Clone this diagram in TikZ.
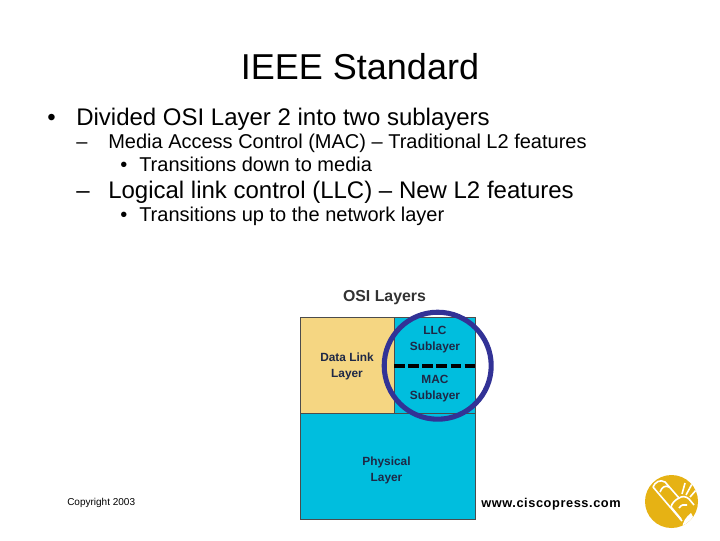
\documentclass[tikz,border=0pt]{standalone}
\usepackage{fontspec}
\setmainfont{Liberation Sans}
\usetikzlibrary{positioning}
\definecolor{layerblue}{RGB}{0,190,222}
\definecolor{linksand}{RGB}{245,214,130}
\definecolor{ringblue}{RGB}{50,50,150}
\definecolor{logogold}{RGB}{230,178,20}
\definecolor{labelnavy}{RGB}{30,40,70}
\tikzset{
  txt/.style={anchor=base west,inner sep=0pt},
  layerbox/.style={draw=black!70,line width=0.7pt},
  boxlabel/.style={align=center,text=labelnavy,font=\fontsize{8.9}{12}\selectfont\bfseries},
  logoline/.style={white,line width=1.2pt,line join=round}
}
\newcommand{\pxfont}[1]{\fontsize{#1}{#1}\selectfont}
\begin{document}
\begin{tikzpicture}[x=0.75pt,y=-0.75pt]
\useasboundingbox (0,0) rectangle (720,540);
% slide text
\node (title) [anchor=base,inner sep=0pt,font=\pxfont{27}] at (360,79) {IEEE Standard};
\node (b1) [txt,font=\pxfont{18}] at (47,125) {•};
\node (l1) [txt,font=\pxfont{18}] at (76,125) {Divided OSI Layer 2 into two sublayers};
\node (d1) [txt,font=\pxfont{15}] at (76,148) {–};
\node (l2) [txt,font=\pxfont{15}] at (108,148) {Media Access Control (MAC) – Traditional L2 features};
\node (b2) [txt,font=\pxfont{15}] at (120,171) {•};
\node (l3) [txt,font=\pxfont{15}] at (139,171) {Transitions down to media};
\node (d2) [txt,font=\pxfont{18}] at (76,198) {–};
\node (l4) [txt,font=\pxfont{18}] at (108,198) {Logical link control (LLC) – New L2 features};
\node (b3) [txt,font=\pxfont{15}] at (120,221) {•};
\node (l5) [txt,font=\pxfont{15}] at (139,221) {Transitions up to the network layer};
% layers
\node (osi) [inner sep=0pt,font=\pxfont{11.9}\bfseries,text=black!80] at (384.5,298) {OSI Layers};
\fill[linksand] (300,317) rectangle (394,413);
\fill[layerblue] (394,317) rectangle (475,413);
\fill[layerblue] (300,413) rectangle (475,519);
\draw[layerbox] (300,317) rectangle (475,519);
\draw[layerbox] (394,317) -- (394,413);
\draw[layerbox] (300,413) -- (475,413);
\coordinate (cutl) at (394,366);
\coordinate (cutr) at (475,366);
\draw[line width=2.4pt,dash pattern=on 8pt off 2.6pt,black] (cutl) -- (cutr);
\node (dll) [boxlabel] at (347,366.5) {Data Link\\Layer};
\node (llc) [boxlabel] at (435,339.5) {LLC\\Sublayer};
\node (mac) [boxlabel] at (435,389) {MAC\\Sublayer};
\node (phy) [boxlabel] at (386.5,470) {Physical\\Layer};
\draw[ringblue,line width=3.8pt] (437.7,365.7) circle [radius=53.5];
% footer
\node (copy) [txt,font=\pxfont{7.5}] at (67,505) {Copyright 2003};
\node (www) [txt,font=\pxfont{9.6}\bfseries\addfontfeatures{LetterSpace=4.5}] at (481,507) {www.ciscopress.com};
% logo
\fill[logogold] (671.5,501.5) circle [radius=26.5];
\begin{scope}
\clip (671.5,501.5) circle [radius=26.5];
\draw[logoline] (653,487) .. controls (655,482) and (660,479) .. (665,482) -- (679,498) .. controls (675,500) and (672,503) .. (671,507);
\draw[logoline] (653,487) -- (682,521);
\draw[logoline] (660,492) .. controls (662,487) and (665,485) .. (669,487);
\draw[logoline] (679,498) .. controls (682,496) and (686,496) .. (689,499) -- (694,505);
\draw[logoline] (671,507) -- (681,519);
\draw[logoline] (679,508) .. controls (681,505) and (684,504) .. (687,505);
\draw[logoline] (682,494) -- (685,483);
\draw[logoline] (686,495) -- (692,484);
\draw[logoline] (690,497) -- (697,489);
\fill[white] (691,513) .. controls (686,517) and (683,521) .. (682,528) -- (700,530) -- cycle;
\end{scope}
\end{tikzpicture}
\end{document}
